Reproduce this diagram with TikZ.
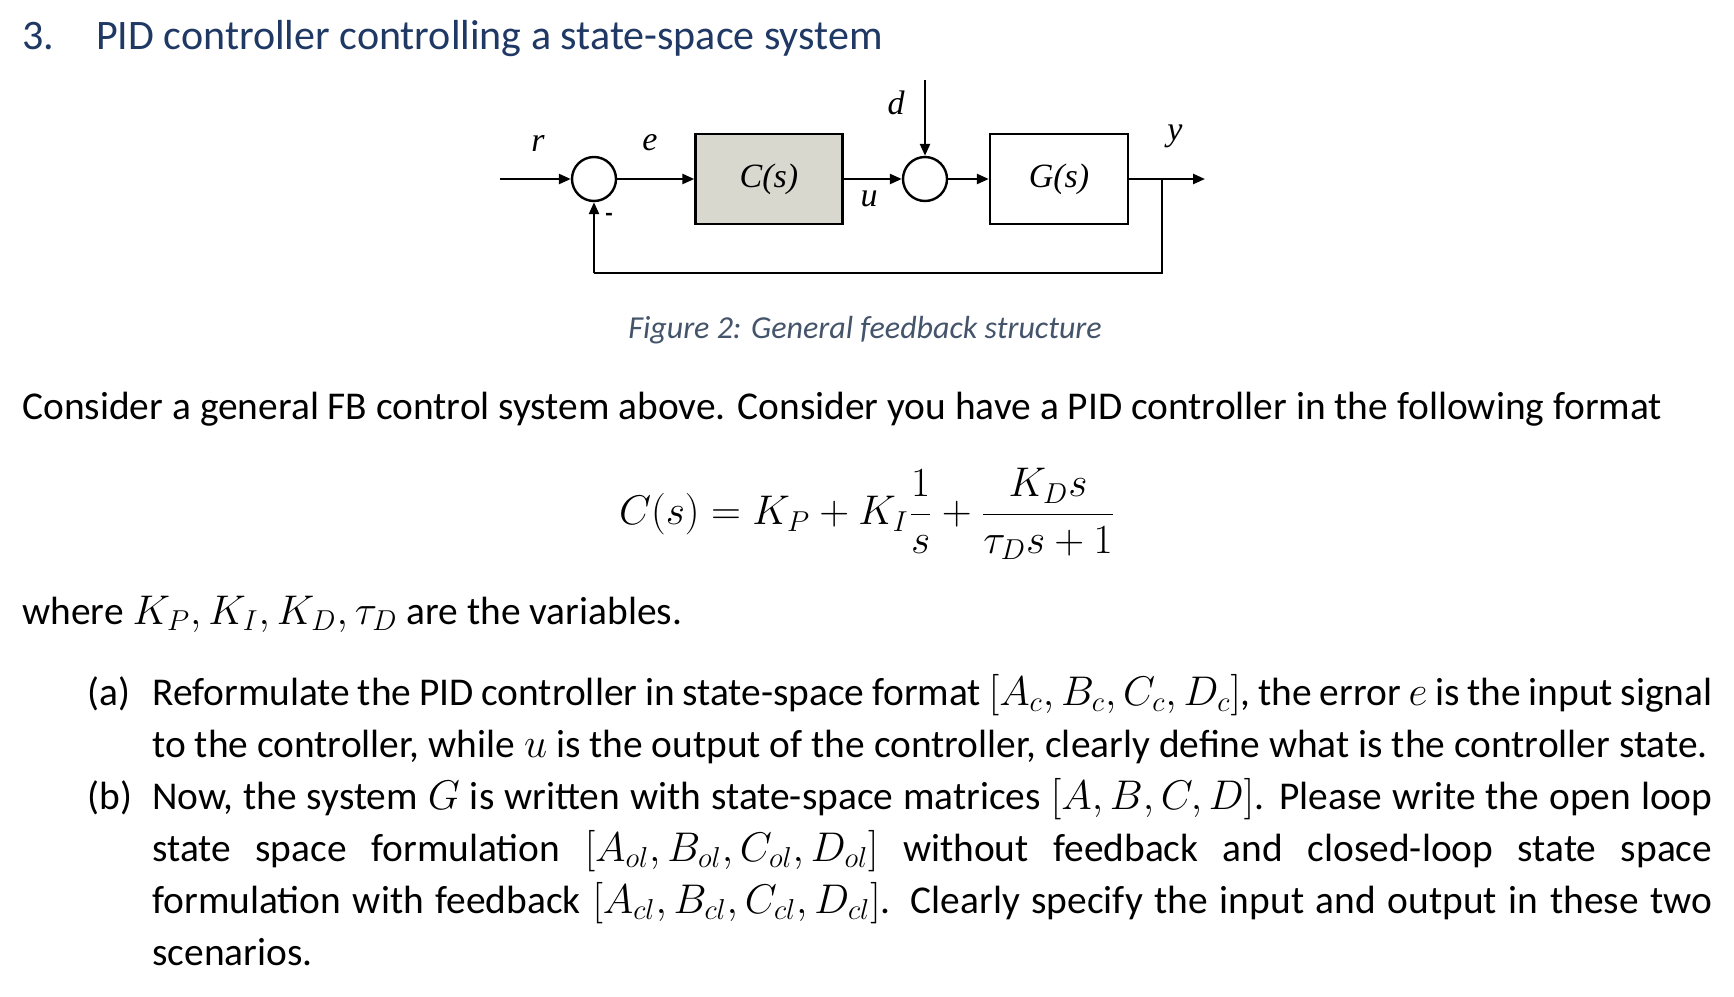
\documentclass[tikz,border=0pt]{standalone}
\usepackage{fontspec}
\setmainfont{Carlito}
\newfontfamily\tms{Liberation Serif}
\usetikzlibrary{arrows.meta}
\definecolor{navy}{HTML}{1F3864}
\definecolor{capc}{HTML}{44546A}
\definecolor{cfill}{RGB}{216,216,206}
\begin{document}
\begin{tikzpicture}[x=0.5pt,y=-0.5pt,
  blk/.style={draw,line width=1.2pt,minimum height=45pt,inner sep=0pt,font=\tms\itshape\fontsize{17}{17}\selectfont},
  sumc/.style={draw,circle,line width=1.2pt,minimum size=22pt,inner sep=0pt},
  sig/.style={font=\tms\itshape\fontsize{17}{17}\selectfont},
  ar/.style={line width=1.2pt,-{Triangle[length=6pt,width=5pt]}},
  ln/.style={line width=1.2pt},
  body/.style={font=\fontsize{19.7}{26}\selectfont,inner sep=0pt}]
\fill[white] (0,0) rectangle (1734,996);
\node[anchor=west,text=navy,font=\fontsize{21}{22}\selectfont,inner sep=0pt] (title) at (22,39) {3.\hspace{21pt}PID controller controlling a state-space system};
% diagram
\coordinate (in) at (500,179);
\node[sumc] (s1) at (594,179) {};
\node[blk,fill=cfill,minimum width=73.5pt] (C) at (769,179) {C(s)};
\node[sumc] (s2) at (925,179) {};
\node[blk,minimum width=69pt] (G) at (1059,179) {G(s)};
\coordinate (br) at (1162,179);
\coordinate (out) at (1205,179);
\coordinate (dtop) at (925,80);
\coordinate (fb) at (1162,273);
\coordinate (fbl) at (594,273);
\draw[ar] (in) -- (s1);
\draw[ar] (s1) -- (C);
\draw[ar] (C) -- (s2);
\draw[ar] (s2) -- (G);
\draw[ar] (G) -- (out);
\draw[ar] (dtop) -- (s2);
\draw[ln] (br) -- (fb) -- (fbl);
\draw[ar] (fbl) -- (s1);
\node[sig] (r) at (538,143) {r};
\node[sig] (e) at (650,143) {e};
\node[sig] (d) at (896,103) {d};
\node[sig] (u) at (869,199) {u};
\node[sig] (y) at (1175,136) {y};
\node[font=\bfseries\fontsize{12}{12}\selectfont] (m) at (609,217) {-};
\node[text=capc,font=\itshape\fontsize{16}{16}\selectfont] (cap) at (865,330) {Figure 2: General feedback structure};
% body
\node[body,anchor=base west] (l1) at (22,419) {Consider a general FB control system above. Consider you have a PID controller in the following format};
\node[body,font=\fontsize{21}{26}\selectfont] (eq) at (867,514) {$\displaystyle C(s)=K_P+K_I\frac{1}{s}+\frac{K_Ds}{\tau_Ds+1}$};
\node[body,anchor=base west] (l2) at (22,624) {where $K_P,K_I,K_D,\tau_D$ are the variables.};
\node[body,anchor=base west] (la) at (87,705) {(a)};
\node[body,anchor=base west,text width=780pt,align=justify] (ta) at (152,705) {Reformulate the PID controller in state-space format $[A_c,B_c,C_c,D_c]$, the error $e$ is the input signal to the controller, while $u$ is the output of the controller, clearly define what is the controller state.};
\node[body,anchor=base west] (lb) at (87,809) {(b)};
\node[body,anchor=base west,text width=780pt,align=justify] (tb) at (152,809) {Now, the system $G$ is written with state-space matrices $[A,B,C,D]$. Please write the open loop\linebreak state space formulation $[A_{ol},B_{ol},C_{ol},D_{ol}]$ without feedback and closed-loop state space\linebreak formulation with feedback $[A_{cl},B_{cl},C_{cl},D_{cl}]$. Clearly specify the input and output in these two scenarios.};
\end{tikzpicture}
\end{document}
